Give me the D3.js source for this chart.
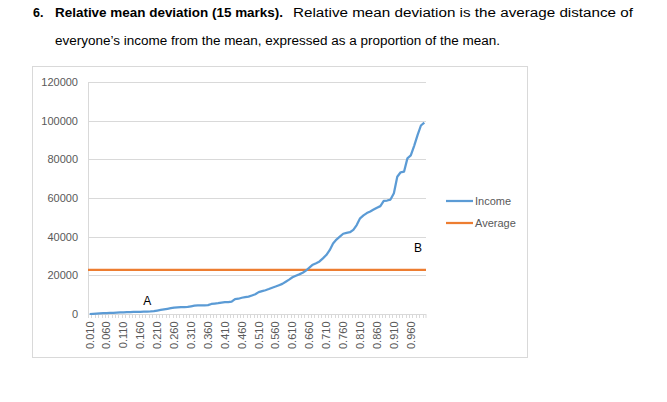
<!DOCTYPE html>
<html>
<head>
<meta charset="utf-8">
<script src="https://cdn.jsdelivr.net/npm/d3@7"></script>
<style>
  body { margin: 0; background: #fff; }
  svg { display: block; }
</style>
</head>
<body>
<div class="chart"></div>
<script>
// income sorted ascending, one value per share of population 0.01 .. 1.00
var income = [
  0, 100, 200, 300, 400, 500, 550, 600, 700, 800,
  900, 950, 1000, 1050, 1100, 1150, 1200, 1250, 1300, 1500,
  1800, 2100, 2400, 2700, 3000, 3300, 3400, 3500, 3600, 3700,
  4000, 4300, 4400, 4400, 4500, 4600, 5200, 5400, 5600, 5900,
  6100, 6200, 6400, 7700, 7900, 8400, 8700, 9000, 9600, 10200,
  11300, 11800, 12300, 12900, 13600, 14200, 14900, 15600, 16700, 17800,
  19000, 19800, 20500, 21300, 22500, 24000, 25500, 26300, 27200, 28800,
  30500, 33000, 36500, 38500, 40000, 41500, 42000, 42300, 43500, 46000,
  49500, 51000, 52200, 53000, 54000, 55000, 55800, 58500, 58700, 59200,
  62500, 71000, 73300, 73600, 80500, 82000, 87000, 92500, 97500, 99000
];
var shares = income.map(function(d, i) { return ((i + 1) / 100).toFixed(3); });
var average = 22800;
var yTicks = [0, 20000, 40000, 60000, 80000, 100000, 120000];
var seriesNames = ["Income", "Average"];
var seriesColors = ["#5B9BD5", "#ED7D31"];

var svgWidth = 667;
var svgHeight = 402;

var svg = d3.select(".chart")
  .append("svg")
  .attr("width", svgWidth)
  .attr("height", svgHeight);

// question text above the chart
var head = svg.append("g")
  .style("font-family", "Liberation Sans, Arial, sans-serif")
  .style("font-size", "12.5px")
  .attr("fill", "#000");

head.append("text").attr("x", 33).attr("y", 17)
  .style("font-weight", "bold").text("6.");
head.append("text").attr("x", 55).attr("y", 17)
  .style("font-weight", "bold")
  .attr("textLength", 228).attr("lengthAdjust", "spacingAndGlyphs")
  .text("Relative mean deviation (15 marks).");
head.append("text").attr("x", 293).attr("y", 17)
  .attr("textLength", 340).attr("lengthAdjust", "spacingAndGlyphs")
  .text("Relative mean deviation is the average distance of");
head.append("text").attr("x", 55).attr("y", 45)
  .attr("textLength", 445).attr("lengthAdjust", "spacingAndGlyphs")
  .text("everyone\u2019s income from the mean, expressed as a proportion of the mean.");

// chart frame
svg.append("rect")
  .attr("x", 32.5).attr("y", 66.5)
  .attr("width", 495).attr("height", 291)
  .attr("fill", "#fff")
  .attr("stroke", "#D9D9D9");

var plot = { left: 88, right: 426, top: 82, bottom: 314 };

var x = d3.scaleBand()
  .domain(shares)
  .range([plot.left, plot.right])
  .padding(0);

var y = d3.scaleLinear()
  .domain([0, 120000])
  .range([plot.bottom, plot.top]);

var xc = function(d) { return x(d) + x.bandwidth() / 2; };

var chartGroup = svg.append("g")
  .style("font-family", "Liberation Sans, Arial, sans-serif");

// gridlines
chartGroup.append("g")
  .selectAll("line")
  .data(yTicks.slice(1))
  .enter()
  .append("line")
  .attr("x1", plot.left).attr("x2", plot.right)
  .attr("y1", function(d) { return Math.round(y(d)) + 0.5; })
  .attr("y2", function(d) { return Math.round(y(d)) + 0.5; })
  .attr("stroke", "#D9D9D9")
  .attr("stroke-width", 1);

// y axis
var leftAxis = d3.axisLeft(y)
  .tickValues(yTicks)
  .tickSize(0)
  .tickPadding(10)
  .tickFormat(d3.format("d"));

var yAxisG = chartGroup.append("g")
  .attr("transform", "translate(" + plot.left + ",0)")
  .call(leftAxis);
yAxisG.select(".domain").attr("stroke", "#D9D9D9");
yAxisG.selectAll("text")
  .attr("fill", "#595959")
  .style("font-size", "11px")
  .style("font-family", "Liberation Sans, Arial, sans-serif");

// x axis: small ticks between every category, label every 5th
var bottomAxis = d3.axisBottom(x)
  .tickSize(0)
  .tickFormat(function(d, i) { return i % 5 === 0 ? d : ""; });

var xAxisG = chartGroup.append("g")
  .attr("transform", "translate(0," + (plot.bottom + 0.5) + ")")
  .call(bottomAxis);
xAxisG.select(".domain").attr("stroke", "#D9D9D9").attr("d", "M" + plot.left + ",0H" + plot.right);
xAxisG.selectAll("text")
  .attr("fill", "#595959")
  .style("font-size", "11px")
  .style("font-family", "Liberation Sans, Arial, sans-serif")
  .attr("text-anchor", "end")
  .attr("transform", "rotate(-90)")
  .attr("x", -7)
  .attr("y", 0)
  .attr("dy", "0.35em");

chartGroup.append("g")
  .selectAll("line")
  .data(shares.concat(["end"]))
  .enter()
  .append("line")
  .attr("x1", function(d) { return d === "end" ? plot.right : Math.round(x(d)) + 0.5; })
  .attr("x2", function(d) { return d === "end" ? plot.right : Math.round(x(d)) + 0.5; })
  .attr("y1", plot.bottom)
  .attr("y2", plot.bottom + 4)
  .attr("stroke", "#D9D9D9");

// average line
chartGroup.append("line")
  .attr("x1", plot.left).attr("x2", plot.right)
  .attr("y1", y(average)).attr("y2", y(average))
  .attr("stroke", seriesColors[1])
  .attr("stroke-width", 2.25);

// income line
var line = d3.line()
  .x(function(d, i) { return xc(shares[i]); })
  .y(function(d) { return y(d); });

chartGroup.append("path")
  .datum(income)
  .attr("d", line)
  .attr("fill", "none")
  .attr("stroke", seriesColors[0])
  .attr("stroke-width", 2.25)
  .attr("stroke-linejoin", "round");

// annotations
chartGroup.append("text")
  .attr("x", xc(shares[17])).attr("y", 305)
  .attr("text-anchor", "middle")
  .style("font-size", "12px")
  .attr("fill", "#000")
  .text("A");

chartGroup.append("text")
  .attr("x", 418).attr("y", 252)
  .attr("text-anchor", "middle")
  .style("font-size", "12px")
  .attr("fill", "#000")
  .text("B");

// legend
var legend = chartGroup.selectAll(".legend")
  .data(seriesNames)
  .enter()
  .append("g")
  .attr("transform", function(d, i) { return "translate(446," + (201 + i * 22) + ")"; });

legend.append("line")
  .attr("x1", 0).attr("x2", 27)
  .attr("stroke", function(d, i) { return seriesColors[i]; })
  .attr("stroke-width", 2.25);

legend.append("text")
  .attr("x", 29).attr("dy", "0.35em")
  .attr("fill", "#595959")
  .style("font-size", "11px")
  .text(function(d) { return d; });
</script>
</body>
</html>
